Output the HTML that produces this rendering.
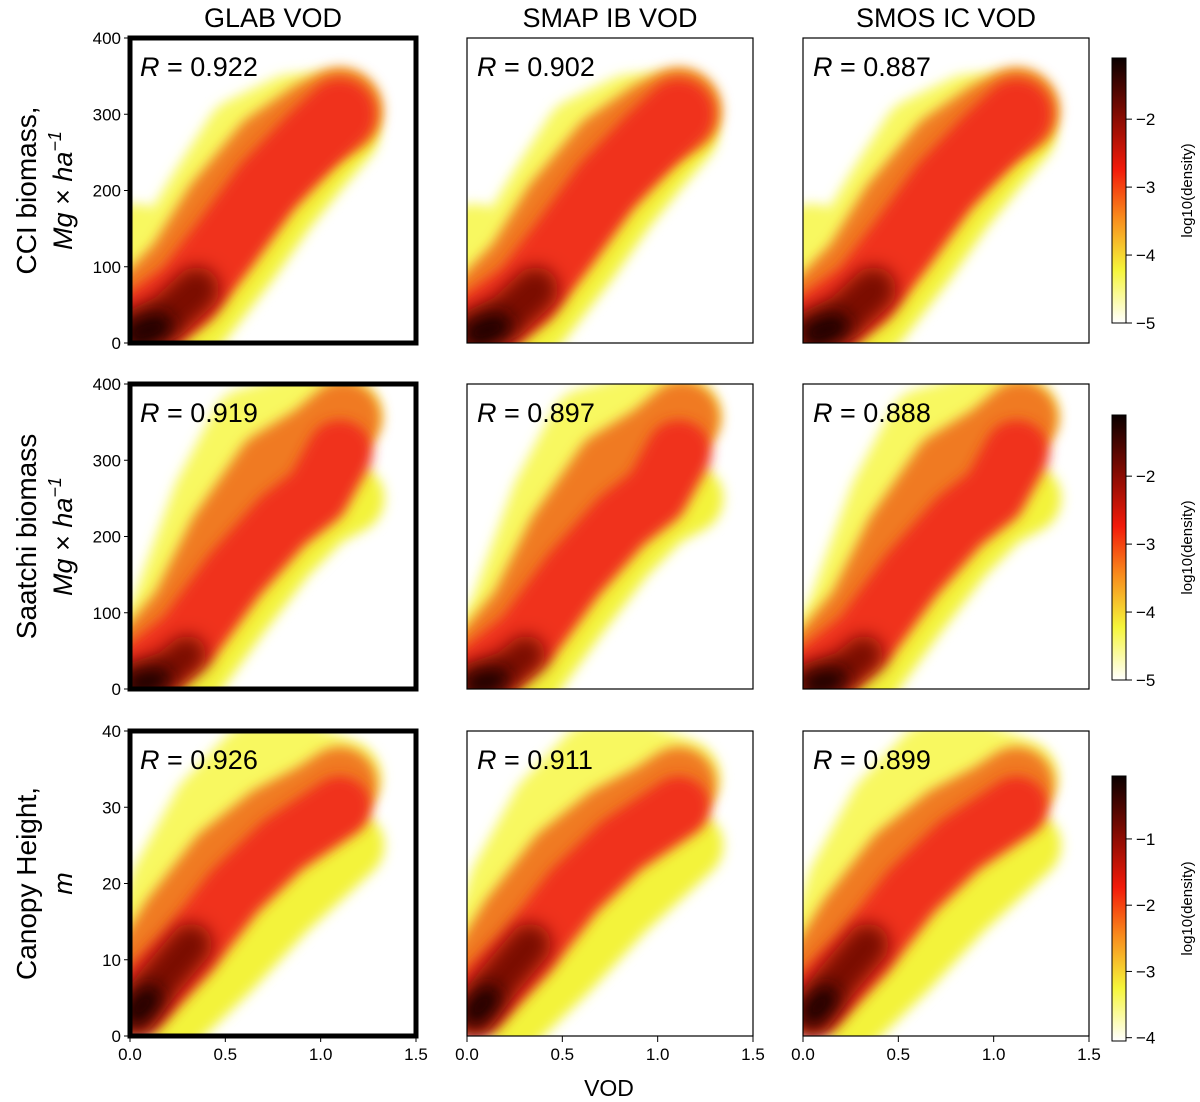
<!DOCTYPE html>
<html><head><meta charset="utf-8">
<style>
body{margin:0;background:#fff;}
svg{display:block;font-family:"Liberation Sans","DejaVu Sans",sans-serif;}
</style></head>
<body>
<svg id="fig" width="1200" height="1102" viewBox="0 0 1200 1102" xmlns="http://www.w3.org/2000/svg">
<defs>
<filter id="blur" filterUnits="userSpaceOnUse" x="0" y="0" width="1200" height="1102"><feGaussianBlur stdDeviation="6"/></filter>
<filter id="blurS" filterUnits="userSpaceOnUse" x="0" y="0" width="1200" height="1102"><feGaussianBlur stdDeviation="9"/></filter>
<linearGradient id="cmap" x1="0" y1="0" x2="0" y2="1">
<stop offset="0" stop-color="#0a0000"/>
<stop offset="0.2" stop-color="#7a0a02"/>
<stop offset="0.42" stop-color="#f21a0a"/>
<stop offset="0.6" stop-color="#f88a1c"/>
<stop offset="0.8" stop-color="#f5f53a"/>
<stop offset="1" stop-color="#ffffff"/>
</linearGradient>
</defs>
</svg>
<script>
const colTitles = ["GLAB VOD","SMAP IB VOD","SMOS IC VOD"];
const rValues = [["0.922","0.902","0.887"],["0.919","0.897","0.888"],["0.926","0.911","0.899"]];
const rowYMax = [400,400,40];
const rowTicks = [[0,100,200,300,400],[0,100,200,300,400],[0,10,20,30,40]];
const xTicks = [0,0.5,1.0,1.5];
const xTickLabels = ["0.0","0.5","1.0","1.5"];
const cbTicks = [[-2,-3,-4,-5],[-2,-3,-4,-5],[-1,-2,-3,-4]];
const cbRange = [[-1.1,-5],[-1.1,-5],[-0.05,-4.05]];
// density layers per row: [vod, value] ridge points, width (px), colour
const cciYellow = [[0.03,50],[0.03,130],[0.2,110],[0.42,200],[0.6,270],[0.85,300],[1.1,305]];
const cciYellow2 = [[0.35,30],[0.6,110],[0.8,180],[0.98,235],[1.12,275]];
const cciOrange = [[0.05,30],[0.3,95],[0.5,175],[0.75,250],[0.98,290],[1.1,305]];
const cciRed = [[0.05,20],[0.3,65],[0.5,130],[0.72,205],[0.95,265],[1.1,300]];
const cciDark = [[0.04,15],[0.2,35],[0.35,70]];
const cciBlack = [[0.04,12],[0.15,22]];
const saYellow = [[0.03,20],[0.2,100],[0.42,250],[0.62,345],[0.9,365],[1.12,360]];
const saYellow2 = [[0.3,15],[0.55,100],[0.8,180],[1.0,230],[1.15,250]];
const saOrange = [[0.05,25],[0.3,100],[0.5,200],[0.75,290],[0.98,325],[1.12,355]];
const saRed = [[0.05,15],[0.3,65],[0.55,150],[0.8,220],[0.98,255],[1.1,310]];
const saDark = [[0.03,10],[0.2,25],[0.3,45]];
const saBlack = [[0.03,6],[0.15,12]];
const chYellow = [[0.02,6],[0.2,20],[0.42,30],[0.65,36],[0.9,36],[1.12,34]];
const chYellow2 = [[0.25,3],[0.5,9],[0.8,17],[1.02,22],[1.15,25]];
const chOrange = [[0.03,6],[0.25,15],[0.5,23],[0.75,28],[0.98,31],[1.1,33]];
const chRed = [[0.03,4],[0.3,11],[0.55,19],[0.8,25],[0.98,28],[1.1,30]];
const chDark = [[0.03,3],[0.15,7],[0.32,12]];
const chBlack = [[0.03,3],[0.1,5]];
const rowLayers = [
  [[cciYellow,80,"#f8f860"],[cciYellow2,70,"#f3f33a"],[cciOrange,85,"#f07a22"],[cciRed,70,"#f0301a"],[cciDark,45,"#7a0a03"],[cciBlack,28,"#1a0000"]],
  [[saYellow,75,"#f8f860"],[saYellow2,70,"#f3f33a"],[saOrange,75,"#f07a22"],[saRed,65,"#f0301a"],[saDark,38,"#7a0a03"],[saBlack,24,"#1a0000"]],
  [[chYellow,75,"#f8f860"],[chYellow2,70,"#f3f33a"],[chOrange,75,"#f07a22"],[chRed,62,"#f0301a"],[chDark,42,"#7a0a03"],[chBlack,26,"#1a0000"]]
];
const colX = [130,467,803], panelW = 286;
const rowY = [38,384,731], panelH = 305;
const NS = "http://www.w3.org/2000/svg";
const svg = document.getElementById("fig");
function el(tag, attrs, parent){const e=document.createElementNS(NS,tag);for(const k in attrs)e.setAttribute(k,attrs[k]);(parent||svg).appendChild(e);return e;}
function sx(c,v){return colX[c]+v/1.5*panelW;}
function sy(r,v){return rowY[r]+panelH-v/rowYMax[r]*panelH;}

for(let c=0;c<3;c++){
  const t=el("text",{x:colX[c]+panelW/2,y:27,"text-anchor":"middle","font-size":"27"});
  t.textContent=colTitles[c];
  
  
}
for(let r=0;r<3;r++){
  for(let c=0;c<3;c++){
    const g=el("g",{});
    
    
    const cid="clip"+r+c;
    const cp=el("clipPath",{id:cid},svg.querySelector("defs"));
    el("rect",{x:colX[c],y:rowY[r],width:panelW,height:panelH},cp);
    const dg=el("g",{"clip-path":"url(#"+cid+")"},g);
    
    
    rowLayers[r].forEach((L,i)=>{
      const pts=L[0].map(p=>sx(c,p[0]+c*0.01)+","+sy(r,p[1])).join(" L");
      const p=el("path",{d:"M"+pts,fill:"none",stroke:L[2],"stroke-width":L[1],"stroke-linecap":"round","stroke-linejoin":"round",filter:i>=4?"url(#blurS)":"url(#blur)"},dg);
      
      
    });
    const thick = c===0;
    const fr=el("rect",{x:colX[c],y:rowY[r],width:panelW,height:panelH,fill:"none",stroke:"#000","stroke-width":thick?5:1.2},g);
    
    
    const rt=el("text",{x:colX[c]+10,y:rowY[r]+38,"font-size":"27"},g);
    rt.innerHTML='<tspan font-style="italic">R</tspan> = '+rValues[r][c];
    
    
    if(c===0){
      rowTicks[r].forEach(v=>{
        const y=sy(r,v);
        el("line",{x1:colX[c]-6,x2:colX[c],y1:y,y2:y,stroke:"#000"},g);
        const tl=el("text",{x:colX[c]-9,y:y+6,"text-anchor":"end","font-size":"17"},g);
        tl.textContent=v;
        
        
      });
    }
    if(r===2){
      xTicks.forEach((v,i)=>{
        const x=sx(c,v);
        el("line",{x1:x,x2:x,y1:rowY[r]+panelH,y2:rowY[r]+panelH+6,stroke:"#000"},g);
        const tl=el("text",{x:x,y:rowY[r]+panelH+24,"text-anchor":"middle","font-size":"17"},g);
        tl.textContent=xTickLabels[i];
        
        
      });
    }
  }
}
const yTitles=[["CCI biomass,","Mg × ha"],["Saatchi biomass","Mg × ha"],["Canopy Height,","m"]];
for(let r=0;r<3;r++){
  const cy=rowY[r]+panelH/2;
  const t=el("text",{transform:"translate(36,"+cy+") rotate(-90)","text-anchor":"middle","font-size":"28"});
  t.textContent=yTitles[r][0];
  
  
  const t2=el("text",{transform:"translate(72,"+cy+") rotate(-90)","text-anchor":"middle","font-size":"27","font-style":"italic"});
  t2.innerHTML = r<2 ? 'Mg <tspan font-style="normal">×</tspan> ha<tspan dy="-11" font-size="18">−1</tspan>' : 'm';
  
  
  const cbY=[58,415,776][r], cbH=265, cbX=1112;
  const cb=el("rect",{x:cbX,y:cbY,width:14,height:cbH,fill:"url(#cmap)",stroke:"#000","stroke-width":1});
  
  
  const [top,bot]=cbRange[r];
  cbTicks[r].forEach(v=>{
    const y=cbY+(top-v)/(top-bot)*cbH;
    el("line",{x1:cbX+14,x2:cbX+20,y1:y,y2:y,stroke:"#000"});
    const tl=el("text",{x:cbX+24,y:y+6,"font-size":"17"});
    tl.textContent="−"+Math.abs(v);
    
    
  });
  const cl=el("text",{transform:"translate(1192,"+(cbY+cbH/2)+") rotate(-90)","text-anchor":"middle","font-size":"15"});
  cl.textContent="log10(density)";
  
  
}
const xt=el("text",{x:609,y:1096,"text-anchor":"middle","font-size":"23"});
xt.textContent="VOD";


</script>
</body></html>
